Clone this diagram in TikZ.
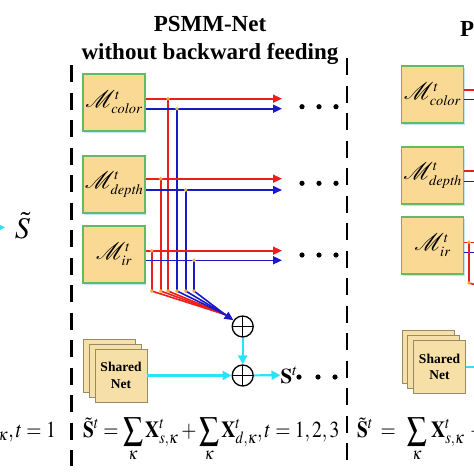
\documentclass[tikz,border=0pt]{standalone}
\usepackage{mathptmx}
\usepackage{fontspec}
\setmainfont{Liberation Serif}
\usetikzlibrary{arrows.meta,shadows}
\definecolor{boxfill}{RGB}{250,217,148}
\definecolor{boxgreen}{RGB}{100,185,100}
\definecolor{snfill}{RGB}{246,224,168}
\definecolor{snborder}{RGB}{150,138,105}
\definecolor{myred}{RGB}{235,30,30}
\definecolor{myblue}{RGB}{25,25,200}
\definecolor{mycyan}{RGB}{40,228,245}
\definecolor{jorange}{RGB}{245,168,60}
\definecolor{jyellow}{RGB}{222,190,70}
\newcommand{\mlab}[1]{{\fontsize{24}{24}\selectfont$\mathcal{M}^{\scriptscriptstyle t}_{\scriptscriptstyle\mathit{#1}}$}}
\newcommand{\squeeze}[1]{\scalebox{0.85}[1]{#1}}
\begin{document}
\begin{tikzpicture}[x=1pt,y=-1pt,
  mbox/.style={draw=boxgreen, line width=1.2pt, fill=boxfill, minimum width=62pt, minimum height=57pt, inner sep=0pt,
    drop shadow={shadow xshift=1pt, shadow yshift=-1.5pt, fill=blue!40!cyan, opacity=0.25}},
  snbox/.style={draw=snborder, line width=0.9pt, fill=snfill, minimum width=52pt, minimum height=53pt, inner sep=0pt},
  rl/.style={draw=myred, line width=1.6pt},
  bl/.style={draw=myblue, line width=1.6pt},
  rarr/.style={rl, -{Triangle[length=9pt,width=8pt]}},
  barr/.style={bl, -{Triangle[length=9pt,width=8pt]}},
  carr/.style={draw=mycyan, line width=2.2pt, -{Triangle[length=9pt,width=9pt]}},
  cl/.style={draw=mycyan, line width=2.2pt},
  divider/.style={draw=black, line width=2.2pt, dash pattern=on 17pt off 10.5pt},
  oplus/.style={circle, draw, line width=1.3pt, minimum size=21pt, inner sep=0pt,
    path picture={\draw[line width=1.3pt] (path picture bounding box.north) -- (path picture bounding box.south)
      (path picture bounding box.west) -- (path picture bounding box.east);}},
  ttl/.style={font=\bfseries\fontsize{23}{27}\selectfont, anchor=base, inner sep=0pt},
  fml/.style={font=\fontsize{23}{27}\selectfont, inner sep=0pt},
  dotfill/.style={fill=black},
]
\path[use as bounding box, fill=white] (0,0) rectangle (474,474);
\clip (0,0) rectangle (474,474);

% titles
\node[ttl] (t1) at (210,31.7) {PSMM-Net};
\node[ttl] (t2) at (210,59.3) {without backward feeding};
\node[ttl, anchor=base west] (t3) at (460,36.7) {PSMM-Net};

% dividers
\draw[divider] (71.5,65) -- (71.5,466);
\draw[divider] (347,58) -- (347,462);

% left panel boxes
\node[mbox] (mc) at (114,102.5) {\mlab{color}};
\node[mbox] (md) at (114,184.5) {\mlab{depth}};
\node[mbox] (mi) at (114,254.5) {\mlab{ir}};

% junction coordinates
\coordinate (jcR) at (168,98.7);
\coordinate (jcB) at (177,108.7);
\coordinate (jdR) at (160.7,178.7);
\coordinate (jdB) at (185.7,190);
\coordinate (jiR) at (151.7,250.7);
\coordinate (jiB) at (194,260.3);
\coordinate (bcR) at (168,291);
\coordinate (bcB) at (177,291);
\coordinate (bdR) at (160.7,291);
\coordinate (bdB) at (185.7,291);
\coordinate (biR) at (151.7,291);
\coordinate (biB) at (194,291);
\coordinate (ecR) at (282,98.7);
\coordinate (ecB) at (282,108.7);
\coordinate (edR) at (282,178.7);
\coordinate (edB) at (282,190);
\coordinate (eiR) at (282,250.7);
\coordinate (eiB) at (282,260.3);
\coordinate (conv) at (225,314.5);

% verticals
\draw[rl] (jcR) -- (bcR);
\draw[bl] (jcB) -- (bcB);
\draw[rl] (jdR) -- (bdR);
\draw[bl] (jdB) -- (bdB);
\draw[rl] (jiR) -- (biR);
\draw[bl] (jiB) -- (biB);

% horizontal arrows
\draw[rarr] (mc.east |- jcR) -- (ecR);
\draw[barr] (mc.east |- jcB) -- (ecB);
\draw[rarr] (md.east |- jdR) -- (edR);
\draw[barr] (md.east |- jdB) -- (edB);
\draw[rarr] (mi.east |- jiR) -- (eiR);
\draw[barr] (mi.east |- jiB) -- (eiB);

% oplus nodes
\node[oplus] (o1) at (242.7,326.5) {};
\node[oplus] (o2) at (242.7,375.5) {};

% converging lines
\draw[rl] (biR) -- (conv);
\draw[rl] (bdR) -- (conv);
\draw[rl] (bcR) -- (conv);
\draw[bl] (bcB) -- (conv);
\draw[bl] (bdB) -- (conv);
\draw[bl] (biB) -- (conv);
\draw[barr] (conv) -- (o1);

% junction dots
\foreach \p in {jcR,jdR,jiR,bcR,bdR,biR,bcB,bdB,biB} \fill[jorange] (\p) circle[radius=1.9pt];
\foreach \p in {jcB,jdB,jiB} \fill[jyellow] (\p) circle[radius=1.9pt];

% ellipsis dots
\foreach \y in {106.7,183.3,255} {
  \foreach \x in {302,319,336} \fill[dotfill] (\x,\y) circle[radius=2.6pt];
}

% shared net (left)
\node[snbox] (sn3) at (109.5,365.5) {};
\node[snbox] (sn2) at (115.2,370.5) {};
\node[snbox, align=center, font=\bfseries\fontsize{13.5}{16.5}\selectfont] (sn1) at (121,375.5) {Shared\\Net};

% cyan connectors
\draw[carr] (o1) -- (o2);
\draw[carr] (sn1.east) -- (o2);
\node[anchor=base west, inner sep=0pt, font=\fontsize{21}{24}\selectfont] (st) at (280.5,383) {$\mathbf{S}^t$};
\draw[carr] (o2) -- (st.west);
\foreach \x in {299,318,335} \fill[dotfill] (\x,377) circle[radius=2.6pt];

% left edge S tilde
\coordinate (lin) at (-20,227.5);
\coordinate (ltip) at (5,227.5);
\draw[carr] (lin) -- (ltip);
\node[inner sep=0pt, font=\fontsize{30}{30}\selectfont] (stl) at (22.5,226) {$\tilde{S}$};

% formulas
\node[fml, anchor=base east] (f0) at (56,437.5) {\squeeze{${}_{\kappa}, t=1$}};
\node[fml, anchor=base west] (f1) at (83,437.5) {\squeeze{$\displaystyle\tilde{\mathbf{S}}^t = \sum_{\kappa}\mathbf{X}^t_{s,\kappa} + \sum_{\kappa}\mathbf{X}^t_{d,\kappa}, t=1,2,3$}};
\node[fml, anchor=base west] (f2) at (357,437.5) {\squeeze{$\displaystyle\tilde{\mathbf{S}}^t \mkern3mu=\mkern6mu \sum_{\kappa}\mkern2mu\mathbf{X}^t_{s,\kappa} \mkern3mu+ \sum_{\kappa}\mathbf{X}^t_{d,\kappa}$}};

% right panel
\node[mbox] (rc) at (432.5,94.5) {\mlab{color}};
\node[mbox] (rd) at (432.5,175.5) {\mlab{depth}};
\node[mbox] (ri) at (432.5,245.5) {\mlab{ir}};
\coordinate (rcR) at (480,90);
\coordinate (rcB) at (480,99.3);
\coordinate (rdR) at (480,171);
\coordinate (rdB) at (480,181.5);
\coordinate (riR) at (480,242.3);
\coordinate (riB) at (480,252.3);
\coordinate (rjT) at (469,242.3);
\coordinate (rjB) at (469,283);
\coordinate (rjE) at (480,286);
\draw[rl] (rc.east |- rcR) -- (rcR);
\draw[bl] (rc.east |- rcB) -- (rcB);
\draw[rl] (rd.east |- rdR) -- (rdR);
\draw[bl] (rd.east |- rdB) -- (rdB);
\draw[rl] (ri.east |- riR) -- (riR);
\draw[bl] (ri.east |- riB) -- (riB);
\draw[rl] (rjT) -- (rjB) -- (rjE);
\fill[jorange] (rjT) circle[radius=1.9pt];
\fill[jorange] (rjB) circle[radius=1.9pt];
\node[snbox] (rsn3) at (428,357) {};
\node[snbox] (rsn2) at (433.7,362) {};
\node[snbox, align=center, font=\bfseries\fontsize{13.5}{16.5}\selectfont] (rsn1) at (439.5,367) {Shared\\Net};
\coordinate (rcy) at (480,367);
\draw[cl] (rsn1.east) -- (rcy);
\end{tikzpicture}
\end{document}
